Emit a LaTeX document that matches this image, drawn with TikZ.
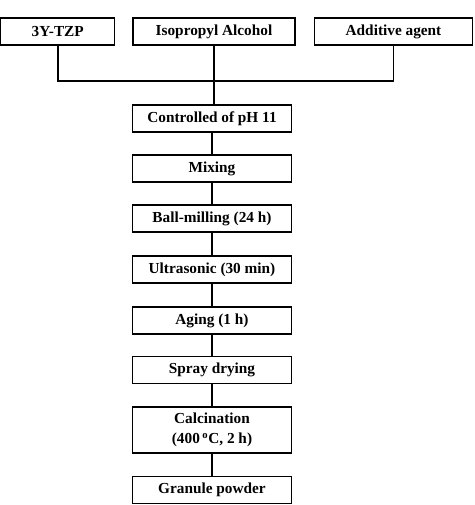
\documentclass[tikz,border=0pt]{standalone}
\usepackage{fontspec}
\setmainfont{Liberation Serif}
\usetikzlibrary{calc}

\begin{document}
\begin{tikzpicture}[x=1pt,y=1pt,line width=1.6pt]
\tikzset{
material/.style = {draw,fill=white,line width=1.5pt,minimum height=27pt,inner sep=0pt,font=\bfseries\fontsize{15.3}{19.5}\selectfont},
process/.style = {material,minimum width=159pt},
process2/.style = {process,minimum height=46pt,align=center},
}
\useasboundingbox (0,0) rectangle (474,505);
    %
% Starting materials.
\node[material,minimum width=114pt] (tzp) at (57.7,473.5) {3Y-TZP};
\node[material,minimum width=162pt] (ipa) at (214,473.5) {Isopropyl Alcohol};
\node[material,minimum width=158pt] (add) at (393.5,473.5) {Additive agent};
    % Process steps.
\node[process] (ph) at (212,386.5) {Controlled of pH 11};
\node[process] (mix) at (212,336.5) {Mixing};
\node[process] (ball) at (212,286.5) {Ball-milling (24 h)};
\node[process] (ultra) at (212,235.5) {Ultrasonic (30 min)};
\node[process] (aging) at (212,184.5) {Aging (1 h)};
\node[process] (spray) at (212,135) {Spray drying};
\node[process2] (calc) at (212,75) {Calcination\\(400\,\textsuperscript{o}C, 2 h)};
\node[process] (gran) at (212,15) {Granule powder};

\coordinate (join) at (214,424);
\draw (tzp.south) |- (join) -| (add.south);
\draw (ipa.south) -- (join) -- (join |- ph.north);
\draw (ph) -- (mix) -- (ball) -- (ultra) -- (aging) -- (spray) -- (calc) -- (gran);
\end{tikzpicture}
\end{document}
